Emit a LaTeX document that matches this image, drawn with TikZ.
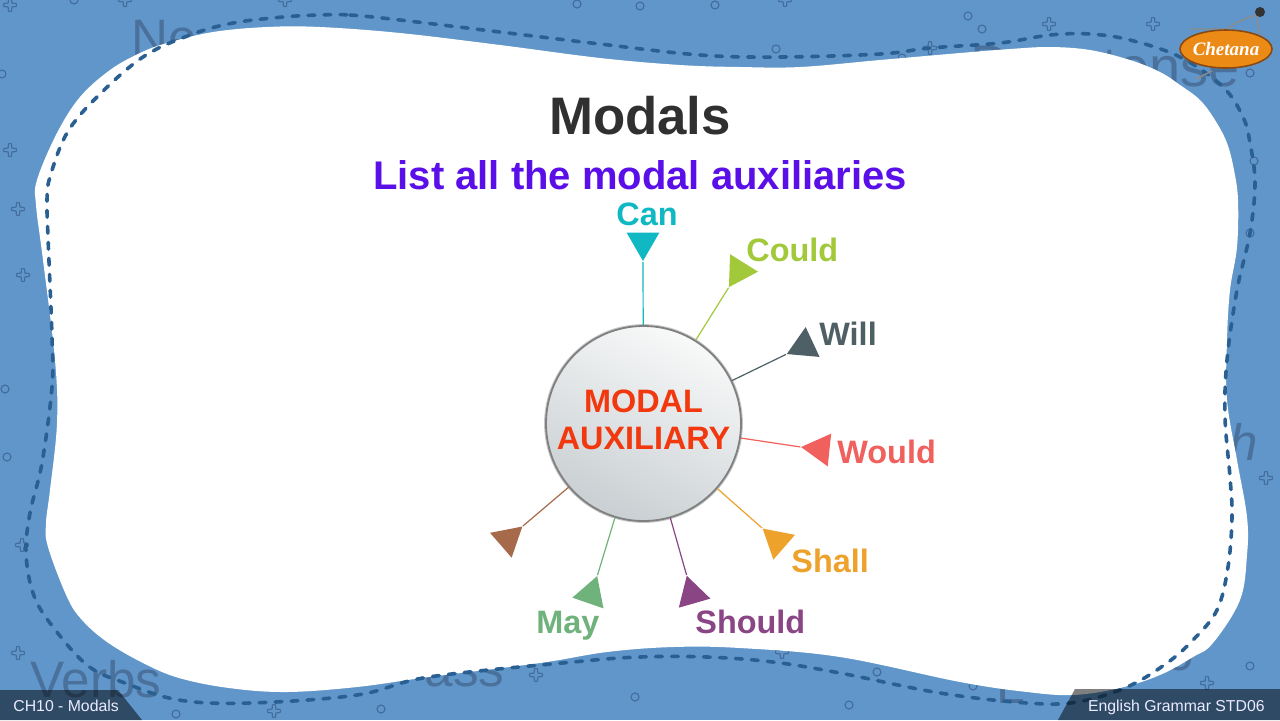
\documentclass[tikz,border=0pt]{standalone}
\usepackage{fontspec}
\setmainfont{Liberation Sans}
\newfontfamily\logofont{Liberation Serif}
\usepackage{xcolor}
\usetikzlibrary{shapes.geometric, positioning, calc}

\definecolor{pageblue}{HTML}{6096CA}
\definecolor{dashblue}{HTML}{2A5F92}
\definecolor{ghostblue}{HTML}{4A719C}
\definecolor{decoblue}{HTML}{436C9C}
\definecolor{titlegray}{HTML}{303030}
\definecolor{subviolet}{HTML}{5A0FE8}
\definecolor{hubred}{HTML}{F2380F}
\definecolor{hublight}{HTML}{F8F9F9}
\definecolor{hubdark}{HTML}{C9CFD2}
\definecolor{logoorange}{HTML}{EC8A16}
\definecolor{logoedge}{HTML}{8A4A12}
\definecolor{cancol}{HTML}{10B8C4}
\definecolor{couldcol}{HTML}{A2C93A}
\definecolor{willcol}{HTML}{4F5F66}
\definecolor{wouldcol}{HTML}{F0605C}
\definecolor{shallcol}{HTML}{EDA22C}
\definecolor{shouldcol}{HTML}{8A4584}
\definecolor{maycol}{HTML}{70B27C}
\definecolor{browncol}{HTML}{A66A4A}

\begin{document}
\begin{tikzpicture}[
    x=0.5pt, y=-0.5pt,
    ghost/.style={text=ghostblue, font=\fontsize{25.6}{28}\selectfont, inner sep=0pt},
    ghostbig/.style={text=ghostblue, font=\fontsize{28}{30}\selectfont, inner sep=0pt},
    decoline/.style={draw=decoblue, line width=0.55pt},
    hub/.style={circle, draw=black!50, line width=0.9pt, minimum size=97.5pt, inner sep=0pt, top color=hublight, bottom color=hubdark, shading angle=-25, preaction={draw=black!22, line width=1.9pt}},
    hubtext/.style={text=hubred, font=\fontsize{16.2}{18.5}\selectfont\bfseries, align=center, inner sep=0pt},
    tip/.style={regular polygon, regular polygon sides=3, minimum size=19pt, inner sep=0pt, fill=#1, shape border uses incircle=false},
    spoke/.style={draw=#1, line width=0.6pt},
    word/.style={text=#1, font=\fontsize{16.2}{18}\selectfont\bfseries, inner sep=0pt, anchor=base west},
    footbar/.style={fill=black, fill opacity=0.5},
    foottext/.style={text=white!92!blue, font=\fontsize{7.9}{9}\selectfont, inner sep=0pt},
    star4/.pic={\draw[decoline] plot[smooth cycle, tension=0.6] coordinates {(6,-1.6) (6,1.6) (1.9,1.9) (1.6,6) (-1.6,6) (-1.9,1.9) (-6,1.6) (-6,-1.6) (-1.9,-1.9) (-1.6,-6) (1.6,-6) (1.9,-1.9)};}
]
\useasboundingbox (0,0) rectangle (1280,720);
\clip (0,0) rectangle (1280,720);
\fill[pageblue] (0,0) rectangle (1280,720);

% Ghost words behind the sheet
\node[ghost, anchor=base west] (ghostn) at (131,55) {Ne};
\node[ghostbig, anchor=base west] (ghostd) at (970,84) {D};
\node[ghostbig, anchor=base east] (ghostt) at (1240,86) {tense};
\node[ghost, anchor=base east, font=\fontsize{25.6}{28}\selectfont\itshape] (ghosth) at (1258,460) {h};
\node[ghost, anchor=base west] (ghostv) at (30,697) {Verbs};
\node[ghost, anchor=base east] (ghosta) at (505,686) {ass};
\node[ghost, anchor=base west] (ghostl) at (996,703) {L};
\node[ghost, anchor=base] (ghosto) at (1180,670) {o};

% Small marks on the blue
\foreach \px/\py in {74/0, 2/74, 577/4, 640/6, 715/5, 776/49, 968/16, 982/29, 902/58, 5/389, 7/457, 1254/161, 1250/233, 176/714, 381/709, 635/697, 849/705, 877/672, 973/686, 1250/666, 1250/73}
    \draw[decoline] (\px,\py) circle (4);
\foreach \px/\py in {10/5, 125/0, 285/0, 785/0, 10/150, 18/209, 23/275, 22/545, 18/653, 930/48, 1049/24, 1153/24, 274/711, 536/675, 782/652, 1207/683, 1266/478}
    \pic at (\px,\py) {star4};

% White sheet
\fill[white] plot[smooth cycle, tension=0.6] coordinates {
    (320,27) (400,33) (500,45) (600,58) (680,65) (740,67) (800,67) (880,60) (960,53) (1010,49) (1050,47)
    (1090,50) (1130,60) (1160,72) (1180,85) (1200,100) (1215,120) (1227,143) (1234,170) (1238,200) (1237,247)
    (1230,290) (1227,340) (1227,400) (1237,460) (1247,517) (1247,555) (1240,600) (1213,643) (1193,657) (1160,675)
    (1120,688) (1073,695) (1027,692) (960,682) (840,657) (740,648) (673,647) (607,652) (540,663) (429,677)
    (357,687) (286,692) (229,688) (179,678) (143,663) (107,642) (82,620) (67,597) (48,547) (46,523) (50,490)
    (57,423) (55,360) (43,260) (36,205) (37,180) (57,133) (80,97) (110,70) (140,53) (167,43) (213,32) (267,27)};

% Dashed line on the sheet edge
\draw[dashblue, line width=1.8pt, line cap=round, dash pattern=on 3.4pt off 4.6pt] plot[smooth cycle, tension=0.6] coordinates {
    (320,15) (350,15) (400,20) (500,32) (600,44) (700,55) (780,57) (880,54) (930,48) (1000,43) (1050,35)
    (1090,34) (1130,40) (1180,57) (1223,87) (1243,117) (1250,143) (1255,183) (1250,233) (1237,290) (1227,360) (1225,417)
    (1230,477) (1232,517) (1228,567) (1217,610) (1193,640) (1167,663) (1127,687) (1077,702) (1027,703) (940,693)
    (840,673) (773,662) (707,657) (640,657) (573,662) (429,677) (357,695) (250,703) (179,700)
    (125,683) (87,665) (50,623) (33,593) (26,553) (30,513) (42,463) (52,387) (52,337) (48,237) (47,200)
    (50,177) (67,133) (97,97) (143,57) (190,35) (233,23) (283,17)};

% Logo
\draw[black!45, line width=0.7pt] (1190,29) -- (1226,29) .. controls (1236,22) and (1246,18) .. (1256,15) -- (1260,36);
\draw[black!45, line width=0.7pt] (1196,79) -- (1212,71);
\node[circle, fill=black!80, minimum size=5pt, inner sep=0pt] (logolock) at (1260,12) {};
\node[ellipse, draw=logoedge, line width=0.8pt, fill=logoorange, minimum width=46pt, minimum height=19pt, inner sep=0pt] (logo) at (1226,49) {};
\node[text=white, font=\logofont\fontsize{9.5}{10}\selectfont\bfseries\itshape, inner sep=0pt] (logotext) at (logo) {Chetana};

% Title
\node[text=titlegray, font=\fontsize{26.4}{30}\selectfont\bfseries, inner sep=0pt, anchor=base] (title) at (640,134) {Modals};
\node[text=subviolet, font=\fontsize{20}{24}\selectfont\bfseries, inner sep=0pt, anchor=base] (subtitle) at (640,189) {List all the modal auxiliaries};

% Hub
\node[hub] (hub) at (643.5,423.5) {};
\node[hubtext] (hubword) at ([yshift=1.7pt]hub.center) {MODAL\\AUXILIARY};

% Can
\node[tip=cancol, shape border rotate=180] (cantip) at (643,242) {};
\draw[spoke=cancol] (hub) -- (cantip.corner 1);
\node[word=cancol] (canword) at (616,225) {Can};

% Could
\node[tip=couldcol, shape border rotate=148] (couldtip) at (739,271) {};
\draw[spoke=couldcol] (hub) -- (couldtip.corner 1);
\node[word=couldcol] (couldword) at (746,261) {Could};

% Will
\node[tip=willcol, shape border rotate=115] (willtip) at (804,346) {};
\draw[spoke=willcol] (hub) -- (willtip.corner 1);
\node[word=willcol] (willword) at (819,345) {Will};

% Would
\node[tip=wouldcol, shape border rotate=84] (wouldtip) at (820,449) {};
\draw[spoke=wouldcol] (hub) -- (wouldtip.corner 1);
\node[word=wouldcol] (wouldword) at (837,463) {Would};

% Shall
\node[tip=shallcol, shape border rotate=49] (shalltip) at (777,541) {};
\draw[spoke=shallcol] (hub) -- (shalltip.corner 1);
\node[word=shallcol] (shallword) at (791,572) {Shall};

% Should
\node[tip=shouldcol, shape border rotate=16] (shouldtip) at (692,594) {};
\draw[spoke=shouldcol] (hub) -- (shouldtip.corner 1);
\node[word=shouldcol] (shouldword) at (695,633) {Should};

% May
\node[tip=maycol, shape border rotate=-19] (maytip) at (591,594) {};
\draw[spoke=maycol] (hub) -- (maytip.corner 1);
\node[word=maycol] (mayword) at (536,633) {May};

% Empty arm
\node[tip=browncol, shape border rotate=-49] (emptytip) at (508,539) {};
\draw[spoke=browncol] (hub) -- (emptytip.corner 1);

% Footer bars
\fill[footbar] (0,690) -- (118,690) -- (142,720) -- (0,720) -- cycle;
\fill[footbar] (1075,689) -- (1280,689) -- (1280,720) -- (1058,720) -- cycle;
\node[foottext, anchor=base west] (footleft) at (13,711) {CH10 - Modals};
\node[foottext, anchor=base east] (footright) at (1265,711) {English Grammar STD06};

\end{tikzpicture}
\end{document}
